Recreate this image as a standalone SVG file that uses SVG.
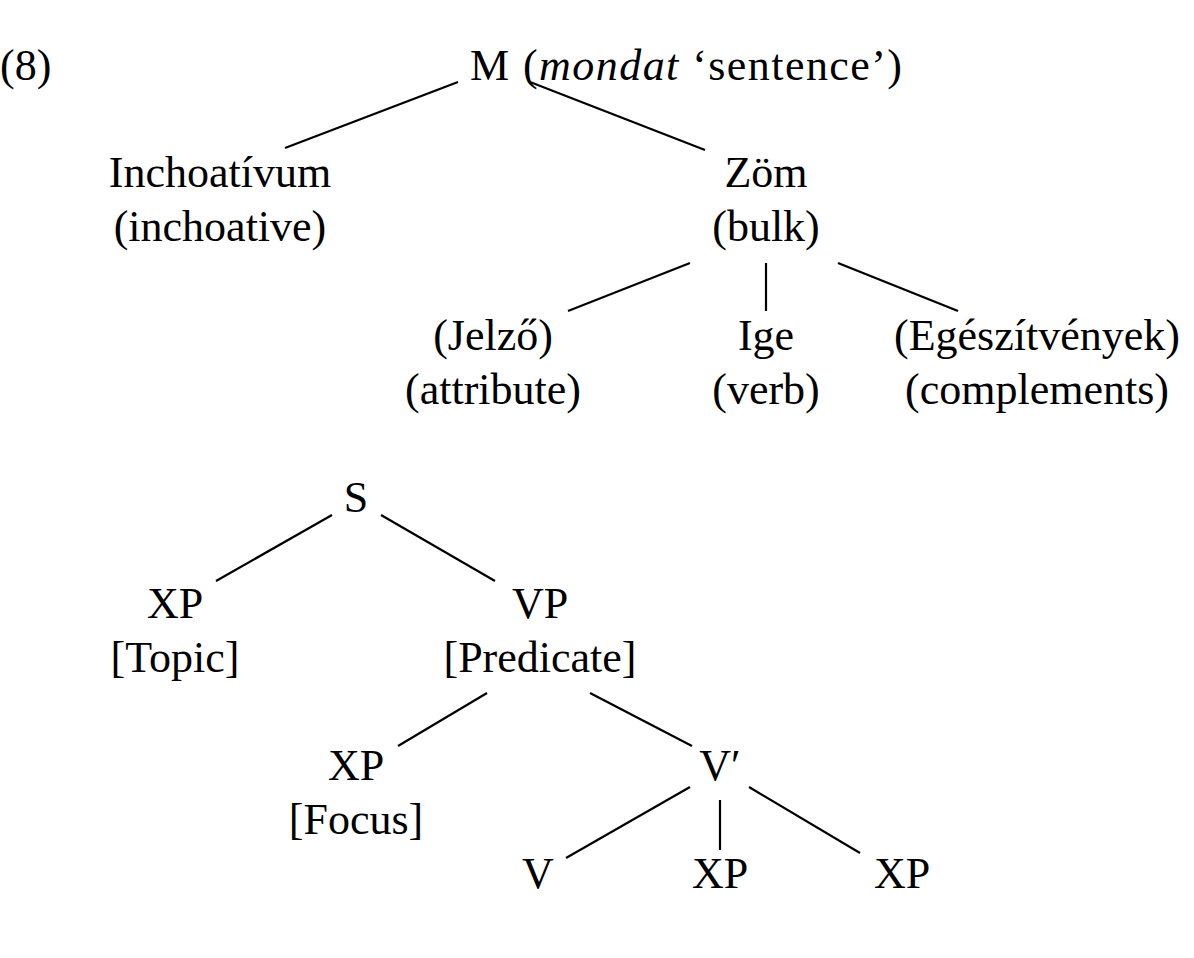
<svg xmlns="http://www.w3.org/2000/svg" width="1194" height="958" viewBox="0 0 1194 958">
<style>
text{font-family:"Liberation Serif","DejaVu Serif",serif;font-size:44px;fill:#000;text-anchor:middle}
.s{text-anchor:start}
line{stroke:#000;stroke-width:2.2}
</style>
<rect width="1194" height="958" fill="#fff"/>
<text class="s" x="0" y="80">(8)</text>
<g id="M"><text class="s" x="470" y="80" textLength="432">M (<tspan font-style="italic">mondat</tspan> ‘sentence’)</text></g>
<g id="inch"><text x="220" y="187">Inchoatívum</text><text x="220" y="241">(inchoative)</text></g>
<g id="zom"><text x="766" y="187">Zöm</text><text x="766" y="241">(bulk)</text></g>
<g id="jelzo"><text x="493" y="350">(Jelző)</text><text x="493" y="404">(attribute)</text></g>
<g id="ige"><text x="766" y="350">Ige</text><text x="766" y="404">(verb)</text></g>
<g id="egesz"><text x="1037" y="350">(Egészítvények)</text><text x="1037" y="404">(complements)</text></g>
<g id="S"><text x="356" y="512">S</text></g>
<g id="xp1"><text x="175" y="618">XP</text><text x="175" y="672">[Topic]</text></g>
<g id="vp"><text x="540" y="618">VP</text><text x="540" y="672">[Predicate]</text></g>
<g id="xp2"><text x="356" y="780">XP</text><text x="356" y="834">[Focus]</text></g>
<g id="vbar"><text x="720" y="780">V′</text></g>
<g id="v"><text x="538" y="888">V</text></g>
<g id="xp3"><text x="720" y="888">XP</text></g>
<g id="xp4"><text x="902" y="888">XP</text></g>
<g id="connectors">
<line x1="458" y1="82" x2="285" y2="148"/>
<line x1="530" y1="82" x2="705" y2="150"/>
<line x1="690" y1="263" x2="568" y2="311"/>
<line x1="766" y1="263" x2="766" y2="311"/>
<line x1="838" y1="263" x2="958" y2="311"/>
<line x1="332" y1="515" x2="216" y2="581"/>
<line x1="381" y1="515" x2="495" y2="581"/>
<line x1="487" y1="693" x2="398" y2="746"/>
<line x1="590" y1="693" x2="692" y2="746"/>
<line x1="690" y1="787" x2="566" y2="858"/>
<line x1="720" y1="800" x2="720" y2="850"/>
<line x1="749" y1="787" x2="860" y2="853"/>
</g>
</svg>
